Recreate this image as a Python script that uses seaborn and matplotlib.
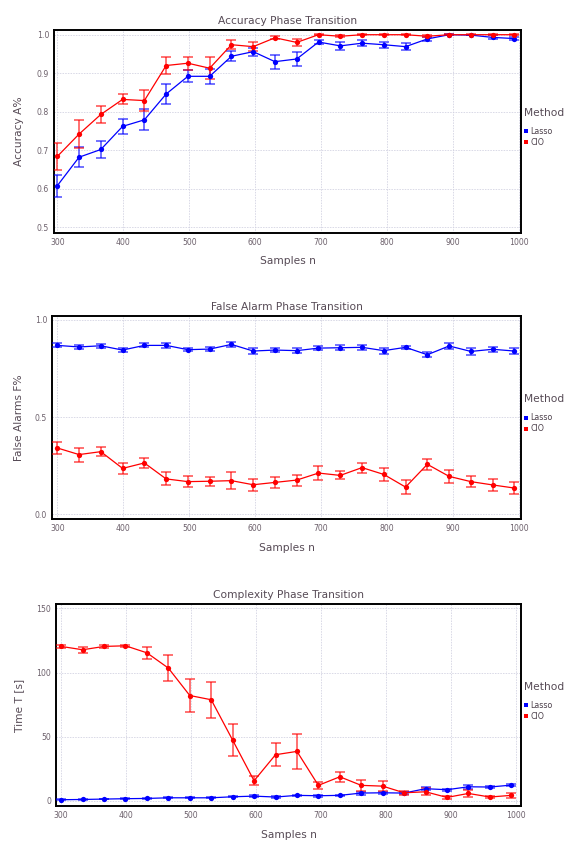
import matplotlib
matplotlib.use("Agg")
import matplotlib.pyplot as plt
from matplotlib.lines import Line2D
import seaborn as sns
import pandas as pd

sns.set_style("white")
plt.rcParams['font.family'] = ['DejaVu Sans']

# ---- data ----
samples = [300, 333, 366, 399, 432, 465, 498, 531, 564, 597, 630,
           663, 696, 729, 762, 795, 828, 861, 894, 927, 960, 993]
methods = ["Lasso", "CIO"]

acc_lasso = [0.608, 0.682, 0.702, 0.762, 0.779, 0.846, 0.892, 0.892, 0.944, 0.956, 0.930,
             0.937, 0.981, 0.971, 0.978, 0.974, 0.969, 0.989, 1.000, 0.999, 0.993, 0.990]
acc_lasso_err = [0.029, 0.026, 0.023, 0.020, 0.027, 0.025, 0.016, 0.019, 0.013, 0.010, 0.018,
                 0.018, 0.006, 0.010, 0.008, 0.008, 0.009, 0.005, 0.001, 0.001, 0.005, 0.005]
acc_cio = [0.684, 0.742, 0.793, 0.832, 0.829, 0.920, 0.926, 0.913, 0.974, 0.969, 0.992,
           0.980, 1.000, 0.996, 1.000, 1.000, 1.000, 0.996, 1.000, 1.000, 1.000, 1.000]
acc_cio_err = [0.034, 0.036, 0.022, 0.013, 0.027, 0.022, 0.017, 0.028, 0.011, 0.011, 0.004,
               0.009, 0.001, 0.002, 0.001, 0.001, 0.001, 0.003, 0.001, 0.001, 0.001, 0.001]

fa_lasso = [0.868, 0.860, 0.866, 0.844, 0.868, 0.868, 0.846, 0.849, 0.873, 0.839, 0.844,
            0.841, 0.854, 0.856, 0.858, 0.841, 0.858, 0.820, 0.865, 0.837, 0.848, 0.839]
fa_lasso_err = [0.010, 0.012, 0.010, 0.010, 0.010, 0.012, 0.008, 0.012, 0.012, 0.014, 0.012,
                0.014, 0.012, 0.012, 0.012, 0.016, 0.006, 0.012, 0.014, 0.016, 0.012, 0.016]
fa_cio = [0.341, 0.307, 0.322, 0.236, 0.264, 0.182, 0.168, 0.170, 0.173, 0.152, 0.164,
          0.176, 0.212, 0.200, 0.240, 0.205, 0.140, 0.257, 0.195, 0.168, 0.151, 0.135]
fa_cio_err = [0.029, 0.036, 0.023, 0.028, 0.027, 0.033, 0.027, 0.024, 0.042, 0.032, 0.028,
              0.028, 0.035, 0.021, 0.026, 0.034, 0.034, 0.029, 0.032, 0.028, 0.033, 0.033]

time_lasso = [0.8, 1.0, 1.3, 1.6, 1.8, 2.3, 2.3, 2.3, 3.1, 3.6, 2.9,
              4.2, 3.9, 4.2, 6.0, 6.2, 6.0, 9.4, 8.6, 10.9, 10.7, 12.2]
time_lasso_err = [0.3, 0.3, 0.3, 0.3, 0.4, 0.4, 0.4, 0.4, 0.5, 0.5, 0.5,
                  0.6, 0.6, 0.6, 1.2, 1.0, 1.0, 1.0, 0.8, 1.5, 1.0, 1.0]
time_cio = [120.4, 117.8, 120.4, 120.9, 115.4, 103.5, 82.1, 78.8, 47.3, 15.6, 35.9,
            38.5, 12.0, 18.7, 12.0, 11.4, 6.2, 7.0, 2.6, 5.7, 2.9, 4.2]
time_cio_err = [1.0, 2.2, 1.0, 1.0, 4.5, 9.9, 12.6, 14.2, 12.5, 3.6, 9.0,
                13.4, 2.6, 4.0, 4.5, 3.7, 1.5, 2.8, 1.0, 2.6, 1.0, 1.7]

xticks = [300, 400, 500, 600, 700, 800, 900, 1000]

palette = {"Lasso": "#0000ff", "CIO": "#ff0000"}
TITLE_C = "#564a55"
TICK_C = "#6c606b"

W, H = 574, 861
fig = plt.figure(figsize=(W / 100, H / 100), dpi=100)


def rect(left, top, right, bottom):
    return [left / W, 1 - bottom / H, (right - left) / W, (bottom - top) / H]


panels = [
    dict(rect=rect(54, 29.7, 521, 232.7), title="Accuracy Phase Transition",
         ylabel="Accuracy A%", lasso=(acc_lasso, acc_lasso_err), cio=(acc_cio, acc_cio_err),
         ylim=(0.486, 1.013), xlim=(295, 1003), yticks=[0.5, 0.6, 0.7, 0.8, 0.9, 1.0],
         yfmt="{:.1f}"),
    dict(rect=rect(52, 316, 521, 519), title="False Alarm Phase Transition",
         ylabel="False Alarms F%", lasso=(fa_lasso, fa_lasso_err), cio=(fa_cio, fa_cio_err),
         ylim=(-0.024, 1.019), xlim=(292, 1003), yticks=[0.0, 0.5, 1.0], yfmt="{:.1f}"),
    dict(rect=rect(56, 604, 521, 806), title="Complexity Phase Transition",
         ylabel="Time T [s]", lasso=(time_lasso, time_lasso_err), cio=(time_cio, time_cio_err),
         ylim=(-4.1, 153.5), xlim=(292, 1008), yticks=[0, 50, 100, 150], yfmt="{:.0f}"),
]

for p in panels:
    ax = fig.add_axes(p["rect"])
    df = pd.concat([
        pd.DataFrame({"n": samples, "val": p["lasso"][0], "err": p["lasso"][1], "Method": "Lasso"}),
        pd.DataFrame({"n": samples, "val": p["cio"][0], "err": p["cio"][1], "Method": "CIO"}),
    ], ignore_index=True)

    for m in methods:
        sub = df[df["Method"] == m]
        ax.errorbar(sub["n"], sub["val"], yerr=sub["err"], fmt="none",
                    ecolor=palette[m], alpha=0.6, elinewidth=1.3, capsize=3.6,
                    capthick=1.3, zorder=3)
    sns.lineplot(data=df, x="n", y="val", hue="Method", hue_order=methods,
                 palette=palette, marker="o", markersize=3.8, markeredgewidth=0,
                 linewidth=0.9, legend=False, errorbar=None, ax=ax, zorder=4)

    ax.set_xlim(*p["xlim"])
    ax.set_ylim(*p["ylim"])
    ax.set_xticks(xticks)
    ax.set_xticklabels([str(t) for t in xticks])
    ax.set_yticks(p["yticks"])
    ax.set_yticklabels([p["yfmt"].format(t) for t in p["yticks"]])
    ax.tick_params(length=0, labelsize=5.6, labelcolor=TICK_C, pad=3.5)
    ax.grid(True, color="#d0d0e0", linestyle=(0, (2.0, 1.5)), linewidth=0.55)
    for s in ax.spines.values():
        s.set_visible(True)
        s.set_color("black")
        s.set_linewidth(1.4)

    ax.set_title(p["title"], fontsize=7.7, color=TITLE_C, pad=4)
    ax.set_xlabel("Samples n", fontsize=7.7, color=TITLE_C, labelpad=7)
    ax.set_ylabel(p["ylabel"], fontsize=7.7, color=TITLE_C)
    bb = ax.get_position()
    ax.yaxis.set_label_coords(24 / W, bb.y0 + bb.height / 2, transform=fig.transFigure)

    handles = [Line2D([], [], marker="s", linestyle="", color=palette[m],
                      markersize=3.2, markeredgewidth=0) for m in methods]
    leg = ax.legend(handles, methods, title="Method", loc="center left",
                    bbox_to_anchor=(1.0, 0.518), frameon=False, fontsize=5.7,
                    title_fontsize=7.7, handletextpad=0.25, handlelength=0.6,
                    borderaxespad=0.35, borderpad=0.0, labelspacing=0.25,
                    alignment="left")
    leg._legend_box.sep = 6.5
    leg.get_title().set_color(TITLE_C)
    for t in leg.get_texts():
        t.set_color("#4c404b")

fig.savefig("out.png", dpi=100, facecolor="white")
